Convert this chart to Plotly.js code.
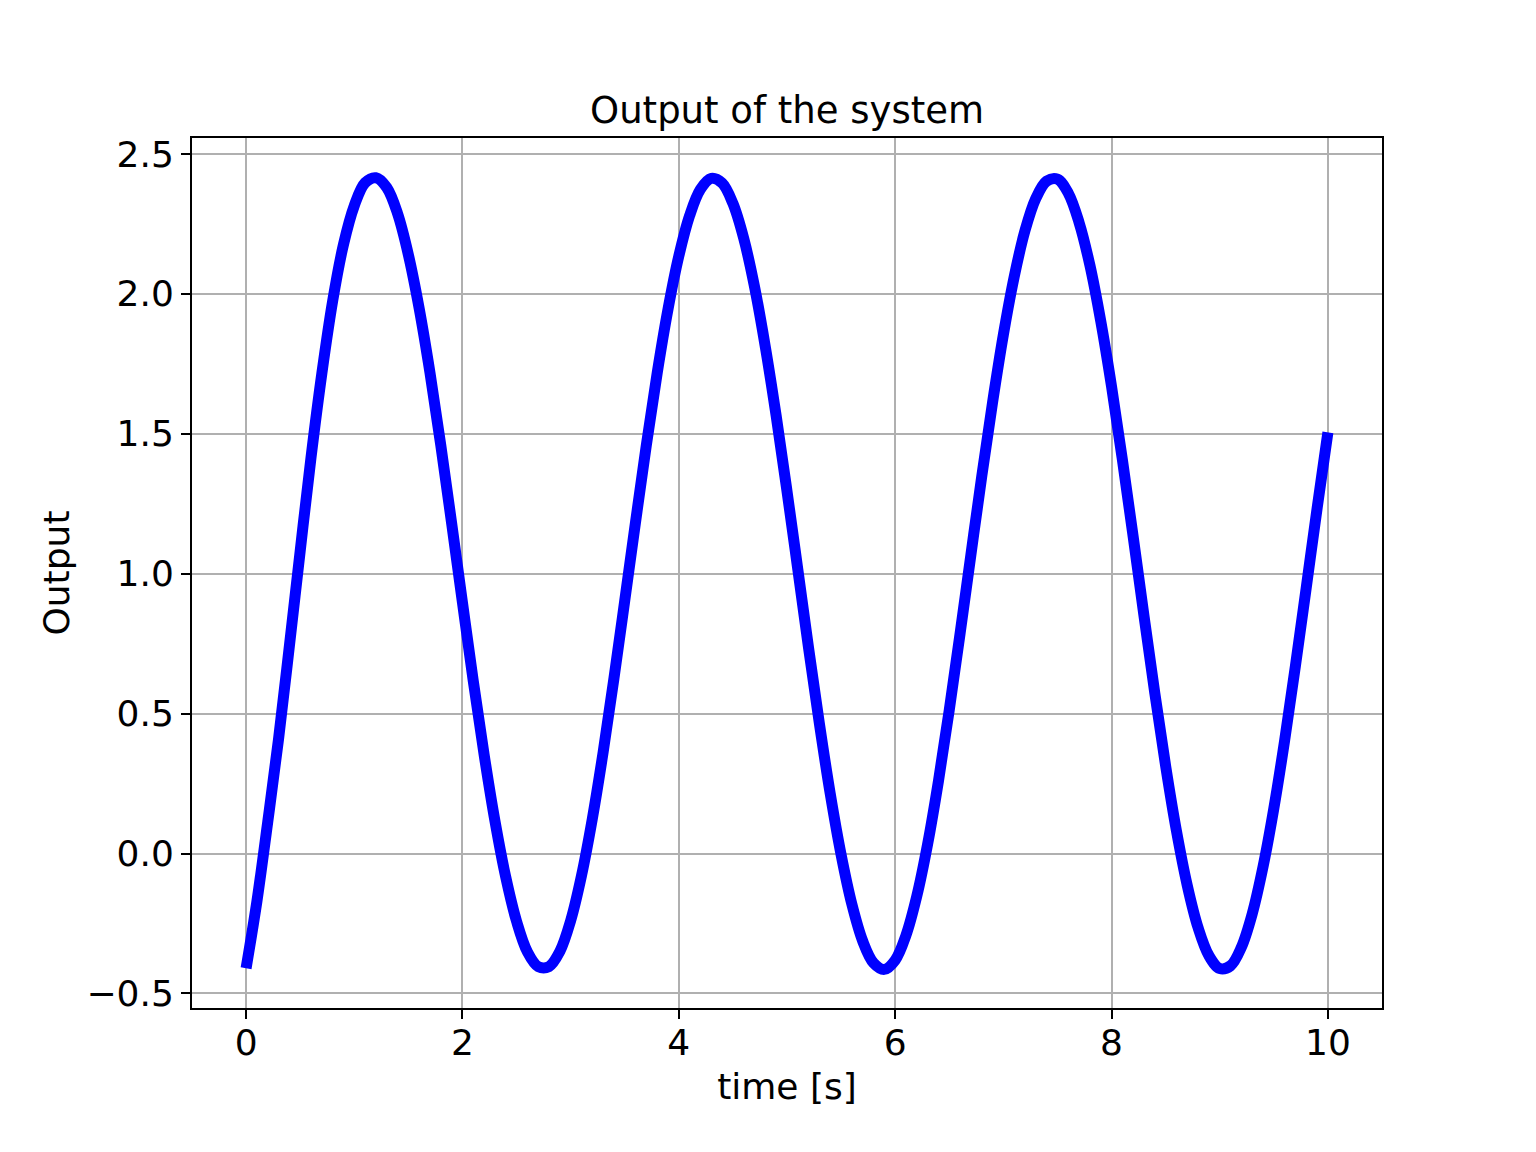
<!DOCTYPE html>
<html>
<head>
<meta charset="utf-8">
<script src="https://cdn.plot.ly/plotly-3.0.1.min.js"></script>
<style>
  html, body { margin: 0; padding: 0; background: #fff; }
  #chart { width: 1536px; height: 1152px; }
</style>
</head>
<body>
<div id="chart"></div>
<script>
// time samples [s]
const timeS = [
  0.0, 0.1, 0.2, 0.3, 0.4, 0.5, 0.6, 0.7, 0.8, 0.9,
  1.0, 1.1, 1.2, 1.3, 1.4, 1.5, 1.6, 1.7, 1.8, 1.9,
  2.0, 2.1, 2.2, 2.3, 2.4, 2.5, 2.6, 2.7, 2.8, 2.9,
  3.0, 3.1, 3.2, 3.3, 3.4, 3.5, 3.6, 3.7, 3.8, 3.9,
  4.0, 4.1, 4.2, 4.3, 4.4, 4.5, 4.6, 4.7, 4.8, 4.9,
  5.0, 5.1, 5.2, 5.3, 5.4, 5.5, 5.6, 5.7, 5.8, 5.9,
  6.0, 6.1, 6.2, 6.3, 6.4, 6.5, 6.6, 6.7, 6.8, 6.9,
  7.0, 7.1, 7.2, 7.3, 7.4, 7.5, 7.6, 7.7, 7.8, 7.9,
  8.0, 8.1, 8.2, 8.3, 8.4, 8.5, 8.6, 8.7, 8.8, 8.9,
  9.0, 9.1, 9.2, 9.3, 9.4, 9.5, 9.6, 9.7, 9.8, 9.9,
  10.0,
];

// system output
const outputValues = [
  -0.410, -0.171, 0.113, 0.409, 0.741, 1.081, 1.415, 1.715, 1.974, 2.176,
  2.315, 2.397, 2.415, 2.380, 2.287, 2.140, 1.948, 1.718, 1.458, 1.180,
  0.897, 0.617, 0.354, 0.117, -0.084, -0.242, -0.351, -0.404, -0.404, -0.350,
  -0.240, -0.080, 0.123, 0.361, 0.625, 0.903, 1.185, 1.460, 1.717, 1.945,
  2.135, 2.280, 2.374, 2.413, 2.396, 2.323, 2.198, 2.025, 1.810, 1.564,
  1.295, 1.015, 0.733, 0.463, 0.213, -0.004, -0.182, -0.313, -0.391, -0.414,
  -0.381, -0.292, -0.152, 0.034, 0.259, 0.513, 0.786, 1.068, 1.347, 1.612,
  1.854, 2.061, 2.226, 2.341, 2.403, 2.410, 2.360, 2.255, 2.102, 1.903,
  1.669, 1.408, 1.132, 0.849, 0.573, 0.313, 0.081, -0.114, -0.265, -0.365,
  -0.411, -0.401, -0.335, -0.216, -0.048, 0.161, 0.404, 0.671, 0.951, 1.233,
  1.505,
];

const xTicks = [0, 2, 4, 6, 8, 10];
const yTicks = [-0.5, 0.0, 0.5, 1.0, 1.5, 2.0, 2.5];
const yTickText = ["\u22120.5", "0.0", "0.5", "1.0", "1.5", "2.0", "2.5"];

const FONT = "DejaVu Sans, Verdana, sans-serif";

const axisBase = {
  showline: true,
  linecolor: "#000",
  linewidth: 2,
  mirror: true,
  ticks: "outside",
  ticklen: 9,
  tickwidth: 2,
  tickcolor: "#000",
  showgrid: true,
  gridcolor: "#b0b0b0",
  gridwidth: 2,
  zeroline: false,
  tickfont: { family: FONT, size: 36, color: "#000" },
  automargin: false,
};

const trace = {
  x: timeS,
  y: outputValues,
  type: "scatter",
  mode: "lines",
  line: { color: "#0000ff", width: 11, shape: "spline", smoothing: 1.0 },
  hoverinfo: "skip",
};

const layout = {
  width: 1536,
  height: 1152,
  margin: { l: 192, r: 154, t: 138, b: 144 },
  paper_bgcolor: "#fff",
  plot_bgcolor: "#fff",
  showlegend: false,
  font: { family: FONT, color: "#000" },
  title: {
    text: "Output of the system",
    font: { family: FONT, size: 37, color: "#000" },
    x: 0.5124,
    xref: "container",
    xanchor: "center",
    y: 1 - 110 / 1152,
    yref: "container",
    yanchor: "middle",
  },
  xaxis: {
    ...axisBase,
    range: [-0.5, 10.5],
    tickvals: xTicks,
    ticktext: xTicks.map(String),
    ticklabelstandoff: -7,
    title: { text: "time [s]", font: { family: FONT, size: 36, color: "#000" }, standoff: 12 },
  },
  yaxis: {
    ...axisBase,
    range: [-0.552, 2.557],
    tickvals: yTicks,
    ticktext: yTickText,
    title: { text: "Output", font: { family: FONT, size: 36, color: "#000" }, standoff: 6 },
  },
};

Plotly.newPlot("chart", [trace], layout, { displayModeBar: false, staticPlot: true });
</script>
</body>
</html>
